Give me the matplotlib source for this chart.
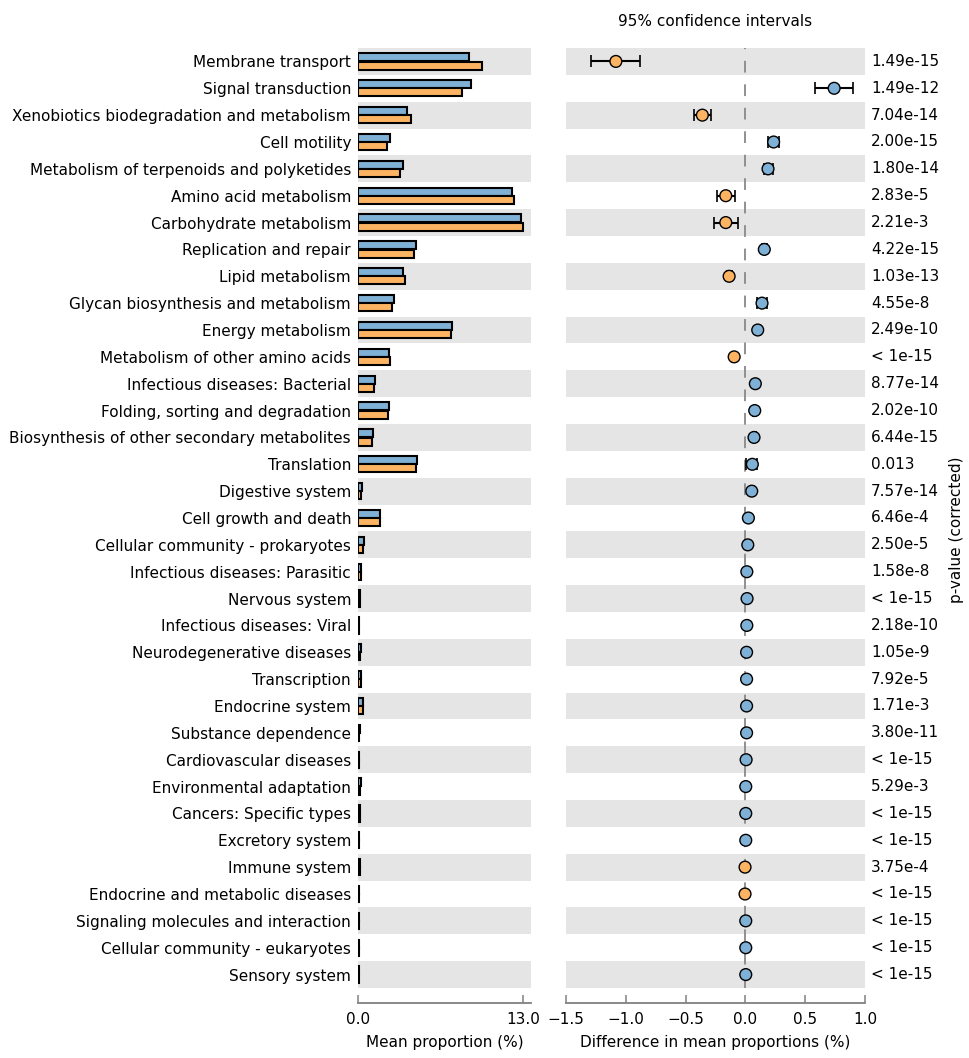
"""
Extended error bar plot: mean proportions and difference in mean proportions.
"""

import matplotlib
matplotlib.use("Agg")
import matplotlib.pyplot as plt
import matplotlib.transforms as mtransforms
import numpy as np

plt.rcParams["font.family"] = ["DejaVu Sans"]

# 数据
categories = [
    "Membrane transport", "Signal transduction",
    "Xenobiotics biodegradation and metabolism", "Cell motility",
    "Metabolism of terpenoids and polyketides", "Amino acid metabolism",
    "Carbohydrate metabolism", "Replication and repair", "Lipid metabolism",
    "Glycan biosynthesis and metabolism", "Energy metabolism",
    "Metabolism of other amino acids", "Infectious diseases: Bacterial",
    "Folding, sorting and degradation",
    "Biosynthesis of other secondary metabolites", "Translation",
    "Digestive system", "Cell growth and death",
    "Cellular community - prokaryotes", "Infectious diseases: Parasitic",
    "Nervous system", "Infectious diseases: Viral",
    "Neurodegenerative diseases", "Transcription", "Endocrine system",
    "Substance dependence", "Cardiovascular diseases",
    "Environmental adaptation", "Cancers: Specific types",
    "Excretory system", "Immune system", "Endocrine and metabolic diseases",
    "Signaling molecules and interaction", "Cellular community - eukaryotes",
    "Sensory system",
]

mean_group1 = [8.75, 8.90, 3.83, 2.55, 3.57, 12.16, 12.84, 4.60, 3.57, 2.86,
               7.41, 2.44, 1.37, 2.47, 1.21, 4.68, 0.34, 1.76, 0.47, 0.26,
               0.18, 0.06, 0.20, 0.24, 0.43, 0.12, 0.06, 0.20, 0.14, 0.06,
               0.12, 0.10, 0.06, 0.07, 0.07]
mean_group2 = [9.77, 8.20, 4.20, 2.31, 3.34, 12.32, 13.03, 4.44, 3.73, 2.68,
               7.30, 2.52, 1.29, 2.39, 1.13, 4.60, 0.26, 1.76, 0.42, 0.20,
               0.17, 0.05, 0.19, 0.22, 0.43, 0.11, 0.05, 0.19, 0.13, 0.05,
               0.12, 0.10, 0.05, 0.06, 0.06]

diff = [-1.083, 0.742, -0.360, 0.236, 0.189, -0.164, -0.164, 0.158, -0.136,
        0.139, 0.103, -0.094, 0.083, 0.078, 0.072, 0.058, 0.053, 0.025,
        0.020, 0.012, 0.014, 0.012, 0.010, 0.010, 0.010, 0.010, 0.006,
        0.003, 0.003, 0.003, -0.003, -0.003, 0.003, 0.003, 0.003]
ci_low = [-1.29, 0.58, -0.43, 0.19, 0.155, -0.24, -0.265, 0.135, -0.155,
          0.094, 0.085, -0.11, 0.07, 0.065, 0.06, 0.008, 0.035, 0.015,
          0.012, 0.006, 0.008, 0.006, 0.004, 0.004, 0.002, 0.004, 0.001,
          -0.002, -0.002, -0.002, -0.008, -0.008, -0.002, -0.002, -0.002]
ci_high = [-0.88, 0.90, -0.29, 0.285, 0.228, -0.087, -0.058, 0.18, -0.115,
           0.178, 0.12, -0.08, 0.095, 0.09, 0.085, 0.10, 0.07, 0.035,
           0.028, 0.018, 0.020, 0.018, 0.016, 0.016, 0.018, 0.016, 0.011,
           0.008, 0.008, 0.008, 0.002, 0.002, 0.008, 0.008, 0.008]

p_values = ["1.49e-15", "1.49e-12", "7.04e-14", "2.00e-15", "1.80e-14",
            "2.83e-5", "2.21e-3", "4.22e-15", "1.03e-13", "4.55e-8",
            "2.49e-10", "< 1e-15", "8.77e-14", "2.02e-10", "6.44e-15",
            "0.013", "7.57e-14", "6.46e-4", "2.50e-5", "1.58e-8", "< 1e-15",
            "2.18e-10", "1.05e-9", "7.92e-5", "1.71e-3", "3.80e-11",
            "< 1e-15", "5.29e-3", "< 1e-15", "< 1e-15", "3.75e-4",
            "< 1e-15", "< 1e-15", "< 1e-15", "< 1e-15"]

BLUE = "#7fb0d5"
ORANGE = "#fdb462"
BAND = "#e5e5e5"
SPINE = "#808080"
FS = 11

n = len(categories)
rows = np.arange(n)

fig = plt.figure(figsize=(9.69, 10.58), dpi=100)
ax1 = fig.add_axes([358 / 969, 1 - 988 / 1058, 173 / 969, 940 / 1058])
ax2 = fig.add_axes([566 / 969, 1 - 988 / 1058, 299 / 969, 940 / 1058])

for ax in (ax1, ax2):
    for r in rows[::2]:
        ax.axhspan(r - 0.5, r + 0.5, color=BAND, lw=0, zorder=0)
    ax.set_ylim(n - 0.5, -0.5)
    for s in ("top", "right", "left"):
        ax.spines[s].set_visible(False)
    ax.spines["bottom"].set_position(("outward", 11))
    ax.spines["bottom"].set_color(SPINE)
    ax.spines["bottom"].set_linewidth(1.3)
    ax.tick_params(axis="x", direction="in", length=6, width=1.1,
                   color=SPINE, labelsize=FS, pad=6)

# 左：平均比例
ax1.barh(rows - 0.155, mean_group1, height=0.3, color=BLUE,
         edgecolor="black", linewidth=1.5, zorder=2)
ax1.barh(rows + 0.155, mean_group2, height=0.3, color=ORANGE,
         edgecolor="black", linewidth=1.5, zorder=2)
ax1.set_xlim(0, 13.65)
ax1.set_xticks([0, 13])
ax1.set_xticklabels(["0.0", "13.0"])
ax1.set_yticks(rows)
ax1.set_yticklabels(categories, fontsize=FS)
ax1.tick_params(axis="y", length=0, pad=5)
ax1.set_xlabel("Mean proportion (%)", fontsize=FS, labelpad=6)

# 右：差值 + 95% CI
ax2.axvline(0, color="#888888", lw=1.3, dashes=(6.5, 6.5), zorder=1)
colors = [BLUE if d > 0 else ORANGE for d in diff]
d = np.array(diff)
err = [d - np.array(ci_low), np.array(ci_high) - d]
ax2.errorbar(d, rows, xerr=err, fmt="none", ecolor="black", elinewidth=1.5,
             capsize=4, capthick=1.2, zorder=2)
ax2.scatter(d, rows, s=72, c=colors, edgecolors="black", linewidths=1.0,
            zorder=3)
ax2.set_xlim(-1.5, 1.0)
ax2.set_xticks([-1.5, -1.0, -0.5, 0.0, 0.5, 1.0])
ax2.set_yticks([])
ax2.set_xlabel("Difference in mean proportions (%)", fontsize=FS, labelpad=6)
ax2.set_title("95% confidence intervals", fontsize=FS, pad=16)

trans = mtransforms.blended_transform_factory(ax2.transAxes, ax2.transData)
for r, p in zip(rows, p_values):
    ax2.text(1.02, r, p, transform=trans, va="center", ha="left", fontsize=FS)

fig.text(957 / 969, 1 - 530 / 1058, "p-value (corrected)", rotation=90,
         va="center", ha="center", fontsize=FS)

fig.savefig("out.png", dpi=100)
